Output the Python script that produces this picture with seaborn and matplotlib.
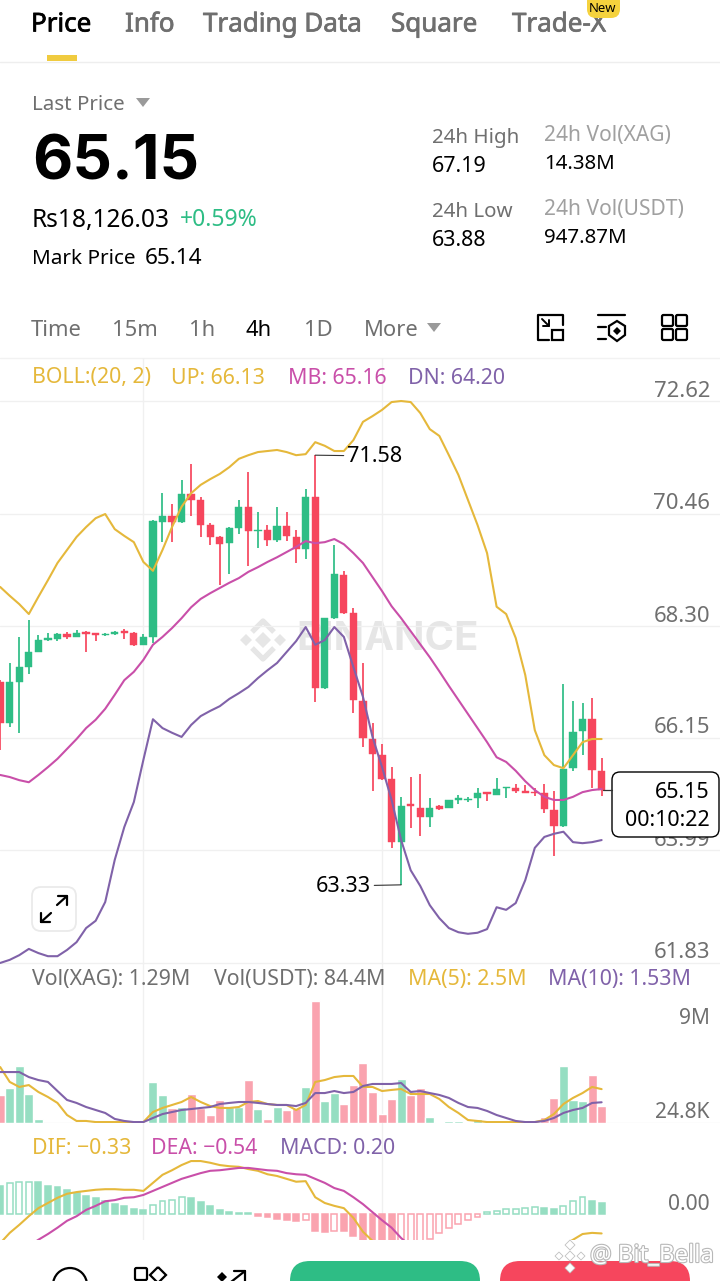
import numpy as np
import pandas as pd
import seaborn as sns
import matplotlib.pyplot as plt
import matplotlib.patheffects as pe
from matplotlib.patches import Polygon, Rectangle, FancyBboxPatch, Circle

# 4h candles, oldest first
opens = [67.23,66.44,67.23,67.51,67.80,68.03,68.05,68.15,68.09,68.19,
         68.17,68.13,68.15,68.21,68.17,67.94,68.09,70.30,70.41,70.30,
         70.83,70.72,70.24,70.00,69.89,70.18,70.59,70.12,70.14,69.95,
         70.22,70.01,69.78,70.78,67.11,68.45,69.28,68.55,66.86,66.13,
         65.82,65.36,64.15,64.88,64.81,64.63,64.84,64.81,64.96,64.96,
         65.00,65.11,65.06,65.19,65.19,65.13,65.11,65.09,64.77,64.46,
         65.57,66.28,66.51,65.52]
highs = [67.26,67.59,68.09,68.42,68.13,68.17,68.17,68.19,68.22,68.21,
         68.17,68.17,68.21,68.24,68.19,68.15,70.34,70.85,70.64,71.10,
         71.41,70.78,70.28,70.03,70.20,70.72,71.26,70.49,70.24,70.59,
         70.49,70.14,70.93,71.58,68.45,69.85,69.36,68.65,67.59,66.44,
         66.03,65.59,65.02,65.40,65.46,65.00,64.86,64.96,65.06,65.02,
         65.19,65.11,65.38,65.21,65.27,65.25,65.19,65.27,65.13,67.19,
         66.86,66.82,66.92,65.77]
lows = [65.92,66.36,66.25,67.38,67.80,68.01,68.01,68.05,68.09,67.80,
        68.01,68.11,68.13,68.05,67.92,67.94,67.97,69.91,69.91,70.28,
        70.41,70.00,69.86,69.09,69.30,70.07,69.45,69.80,69.84,69.91,
        69.93,69.51,69.59,66.84,67.09,68.43,68.53,66.63,65.98,65.13,
        65.34,64.04,63.33,64.42,64.27,64.44,64.77,64.81,64.88,64.92,
        64.81,64.94,65.06,65.00,65.09,65.09,65.04,64.71,63.88,64.44,
        65.52,65.82,65.19,65.04]
closes = [66.44,67.23,67.51,67.80,68.03,68.07,68.15,68.09,68.17,68.15,
          68.13,68.15,68.19,68.17,67.94,68.09,70.32,70.41,70.30,70.83,
          70.72,70.24,70.01,69.87,70.18,70.59,70.12,70.14,69.95,70.22,
          70.03,69.78,70.78,67.11,68.45,69.30,68.55,66.88,66.15,65.84,
          65.36,64.15,64.84,64.84,64.63,64.81,64.79,64.96,65.00,64.98,
          65.09,65.07,65.17,65.21,65.13,65.09,65.09,64.79,64.46,65.55,
          66.27,66.51,65.53,65.15]

# Bollinger bands
boll_up = [69.05,68.88,68.72,68.53,68.86,69.18,69.51,69.76,70.01,70.20,
           70.37,70.45,70.16,70.03,69.91,69.53,69.36,69.76,70.20,70.59,
           70.85,71.01,71.12,71.22,71.35,71.51,71.58,71.64,71.66,71.68,
           71.64,71.58,71.60,71.83,71.76,71.66,71.66,71.87,72.22,72.33,
           72.45,72.60,72.62,72.60,72.39,72.08,71.95,71.58,71.20,70.72,
           70.24,69.70,68.67,68.53,68.07,67.36,66.30,65.82,65.63,65.57,
           65.82,66.07,66.13,66.13]
boll_mb = [65.44,65.40,65.34,65.30,65.44,65.59,65.75,65.94,66.13,66.34,
           66.50,66.71,66.98,67.26,67.42,67.65,67.94,68.09,68.26,68.45,
           68.66,68.82,68.93,69.03,69.13,69.22,69.34,69.43,69.53,69.62,
           69.72,69.82,69.93,69.89,69.91,69.97,69.87,69.70,69.51,69.24,
           68.97,68.68,68.45,68.20,67.95,67.70,67.43,67.15,66.88,66.61,
           66.34,66.07,65.78,65.69,65.52,65.32,65.15,65.02,64.96,64.96,
           65.02,65.11,65.15,65.17]
boll_dn = [61.83,61.89,61.98,62.10,62.02,61.96,61.96,62.08,62.23,62.50,
           62.64,63.00,63.81,64.44,64.92,65.73,66.51,66.34,66.25,66.17,
           66.40,66.57,66.67,66.76,66.90,67.01,67.13,67.30,67.45,67.59,
           67.80,68.01,68.28,67.94,68.03,68.28,68.09,67.51,66.94,66.17,
           65.59,64.96,64.19,63.61,63.31,62.94,62.69,62.50,62.42,62.39,
           62.41,62.48,62.90,62.85,62.98,63.42,64.04,64.25,64.31,64.35,
           64.15,64.13,64.15,64.19]

# volume in millions
volume = [2.07,2.58,4.21,2.14,0.30,0.03,0.03,0.03,0.03,0.04,
          0.03,0.03,0.03,0.03,0.03,0.03,3.03,2.07,1.11,1.18,
          2.14,1.11,0.59,1.70,1.18,1.18,3.17,1.03,0.30,1.18,
          0.96,1.11,2.66,9.00,1.62,2.21,1.40,2.80,4.43,2.29,
          0.66,1.77,3.25,2.07,2.58,0.44,0.04,0.15,0.15,0.04,
          0.26,0.04,0.11,0.05,0.04,0.04,0.05,0.44,1.85,4.21,
          1.70,1.62,3.54,1.29]
vol_ma5 = [4.13,3.03,2.66,2.80,2.29,1.92,1.48,0.59,0.15,0.15,
           0.07,0.07,0.07,0.07,0.07,0.07,0.81,1.11,1.33,1.55,
           1.92,1.55,1.25,1.11,1.11,1.18,1.55,1.62,1.40,1.33,
           1.33,0.96,1.33,3.03,3.17,3.39,3.47,3.47,2.66,2.66,
           2.36,2.44,2.51,2.14,2.14,2.14,1.77,1.18,0.74,0.22,
           0.15,0.07,0.07,0.07,0.07,0.07,0.07,0.22,0.66,1.40,
           1.85,2.21,2.66,2.50]
vol_ma10 = [3.76,3.76,3.76,3.39,3.17,3.03,2.36,1.70,1.48,1.18,
            0.96,0.74,0.30,0.15,0.07,0.07,0.37,0.66,0.81,0.96,
            1.03,1.11,1.18,1.40,1.48,1.55,1.55,1.48,1.40,1.33,
            1.33,1.25,1.48,2.21,2.21,2.36,2.21,2.29,2.73,2.88,
            2.88,2.88,2.95,2.29,2.36,2.21,2.07,1.85,1.48,1.18,
            1.11,0.89,0.59,0.37,0.15,0.07,0.07,0.15,0.37,0.74,
            0.96,1.11,1.48,1.53]

# MACD
macd_hist = [0.50,0.54,0.56,0.57,0.56,0.50,0.47,0.42,0.38,0.33,
             0.28,0.23,0.19,0.14,0.09,0.07,0.17,0.24,0.26,0.30,
             0.28,0.21,0.14,0.07,0.04,0.03,0.02,-0.03,-0.05,-0.07,
             -0.10,-0.12,-0.09,-0.28,-0.31,-0.28,-0.28,-0.38,-0.45,-0.52,
             -0.56,-0.59,-0.56,-0.54,-0.49,-0.42,-0.33,-0.24,-0.17,-0.10,
             -0.05,0.04,0.06,0.09,0.10,0.12,0.13,0.12,0.09,0.14,
             0.23,0.30,0.24,0.20]
macd_dif = [-0.50,-0.32,-0.18,-0.03,0.11,0.20,0.29,0.36,0.39,0.41,
            0.43,0.44,0.44,0.43,0.43,0.41,0.55,0.69,0.77,0.86,
            0.93,0.93,0.90,0.86,0.84,0.83,0.79,0.76,0.70,0.67,
            0.62,0.57,0.58,0.30,0.20,0.15,0.11,-0.06,-0.30,-0.46,
            -0.70,-0.97,-1.23,-1.40,-1.49,-1.49,-1.45,-1.40,-1.35,-1.28,
            -1.23,-1.14,-1.09,-1.00,-0.93,-0.88,-0.83,-0.79,-0.70,-0.53,
            -0.44,-0.34,-0.32,-0.33]
macd_dea = [-0.97,-0.83,-0.69,-0.55,-0.44,-0.34,-0.23,-0.11,-0.03,0.08,
            0.15,0.23,0.25,0.29,0.30,0.34,0.41,0.48,0.55,0.62,
            0.67,0.72,0.76,0.77,0.79,0.81,0.81,0.79,0.77,0.76,
            0.72,0.70,0.69,0.62,0.55,0.46,0.41,0.30,0.18,0.04,
            -0.10,-0.23,-0.41,-0.55,-0.70,-0.84,-0.95,-1.04,-1.10,-1.14,
            -1.15,-1.14,-1.12,-1.10,-1.07,-1.03,-1.00,-0.95,-0.90,-0.83,
            -0.75,-0.67,-0.60,-0.54]

price_ticks = [72.62, 70.46, 68.30, 66.15, 63.99, 61.83]

GREEN, RED = '#2EBD85', '#F6465D'
GREEN_SOFT, RED_SOFT = '#96DEC2', '#FAA3AF'
GOLD, MAGENTA, PURPLE = '#E5B83B', '#C94FA9', '#8062A9'
GRAY, LIGHT = '#6F6F6F', '#A0A0A0'
GRID = '#F0F0F0'

sns.set_theme(style='white')
plt.rcParams['font.family'] = ['Noto Sans', 'DejaVu Sans']

W, H = 720, 1281
fig = plt.figure(figsize=(W / 100, H / 100), dpi=100, facecolor='white')


def ui_axes(z):
    a = fig.add_axes([0, 0, 1, 1], zorder=z)
    a.set_xlim(0, W)
    a.set_ylim(H, 0)
    a.axis('off')
    return a


def panel(top, bottom):
    a = fig.add_axes([0, 1 - bottom / H, 1, (bottom - top) / H], zorder=2)
    a.patch.set_alpha(0)
    a.set_xlim(-0.02, 75.4)
    a.set_xticks([15, 40])
    a.tick_params(length=0, labelleft=False, labelbottom=False)
    a.grid(True, color=GRID, lw=1)
    a.set_axisbelow(True)
    sns.despine(ax=a, left=True, bottom=True)
    return a


bg = ui_axes(0)
top = ui_axes(5)


def txt(x, y, s, px, color='black', weight='normal', ha='left', ax=bg, family=None):
    t = ax.text(x, y + 2, s, fontsize=px * 0.72, color=color, fontweight=weight,
                ha=ha, va='center')
    if family:
        t.set_family(family)
    return t


df = pd.DataFrame({'i': np.arange(len(closes)), 'open': opens, 'high': highs, 'low': lows,
                   'close': closes, 'up': boll_up, 'mb': boll_mb, 'dn': boll_dn,
                   'vol': volume, 'ma5': vol_ma5, 'ma10': vol_ma10,
                   'hist': macd_hist, 'dif': macd_dif, 'dea': macd_dea})
df['rising'] = df['close'] >= df['open']
df['side'] = np.where(df['rising'], 'buy', 'sell')
col = df['side'].map({'buy': GREEN, 'sell': RED})

# ---- price panel
ax = panel(358, 965)
ax.set_ylim(61.791, 73.446)
ax.set_yticks(price_ticks)
ax.vlines(df['i'], df['low'], df['high'], colors=col, lw=1.25, zorder=3)
ax.bar(df['i'], (df['close'] - df['open']).abs(), bottom=df[['open', 'close']].min(axis=1),
       width=0.76, color=col, edgecolor=col, linewidth=0.3, zorder=3)
for name, c in [('up', GOLD), ('mb', MAGENTA), ('dn', PURPLE)]:
    sns.lineplot(data=df, x='i', y=name, color=c, lw=1.5, estimator=None, ax=ax, zorder=4)
ax.set(xlabel=None, ylabel=None)

for val in price_ticks:
    ax.annotate(f'{val:.2f}', (1, val), xycoords=ax.get_yaxis_transform(), xytext=(-10, 10),
                textcoords='offset pixels', ha='right', va='center',
                fontsize=15.9, color=GRAY)
ax.annotate('71.58', xy=(33, 71.58), xytext=(347, 456), textcoords=bg.transData,
            fontsize=15.6, va='center', ha='left', color='black', zorder=6,
            arrowprops=dict(arrowstyle='-', color='#333333', lw=0.8, shrinkA=0, shrinkB=0))
ax.annotate('63.33', xy=(42, 63.33), xytext=(371, 886), textcoords=bg.transData,
            fontsize=15.6, va='center', ha='right', color='black', zorder=6,
            arrowprops=dict(arrowstyle='-', color='#333333', lw=0.8, shrinkA=0, shrinkB=0))

# ---- volume panel
ax2 = panel(965, 1123)
ax2.set_ylim(0, 11.66)
ax2.set_yticks([0])
sns.barplot(data=df, x='i', y='vol', hue='side', palette={'buy': GREEN_SOFT, 'sell': RED_SOFT},
            native_scale=True, dodge=False, width=0.95, saturation=1, legend=False, ax=ax2, zorder=3)
sns.lineplot(data=df, x='i', y='ma5', color=GOLD, lw=1.5, estimator=None, ax=ax2, zorder=4)
sns.lineplot(data=df, x='i', y='ma10', color=PURPLE, lw=1.5, estimator=None, ax=ax2, zorder=5)
ax2.set_xlim(-0.02, 75.4)
ax2.set_xticks([15, 40])
ax2.set(xlabel=None, ylabel=None)
ax2.tick_params(labelbottom=False, labelleft=False)

# ---- macd panel
ax3 = panel(1123, 1240)
ax3.set_ylim(-0.444, 1.592)
ax3.set_yticks([])
prev = df['hist'].shift(1, fill_value=9)
hollow = df['hist'] > prev
bar_col = np.where(df['hist'] >= 0, GREEN_SOFT, RED_SOFT)
ax3.bar(df['i'], df['hist'], width=0.62, color=np.where(hollow, 'white', bar_col),
        edgecolor=bar_col, linewidth=1.1, zorder=3)
sns.lineplot(data=df, x='i', y='dif', color=GOLD, lw=1.5, estimator=None, ax=ax3, zorder=4)
sns.lineplot(data=df, x='i', y='dea', color=MAGENTA, lw=1.5, estimator=None, ax=ax3, zorder=5)
ax3.set(xlabel=None, ylabel=None)

txt(710, 1016, '9M', 21, GRAY, ha='right')
txt(710, 1110, '24.8K', 21, GRAY, ha='right')
txt(710, 1202, '0.00', 21, GRAY, ha='right')

# ---- header tabs
for x, s, c in [(31, 'Price', 'black'), (125, 'Info', GRAY), (203, 'Trading Data', GRAY),
                (391, 'Square', GRAY), (512, 'Trade-X', GRAY)]:
    t = txt(x, 23, s, 26, c)
    t.set_path_effects([pe.withStroke(linewidth=0.5, foreground=c)])
bg.add_patch(Rectangle((47, 55), 30, 6, color='#F0CB3F', lw=0))
bg.plot([0, W], [61.5, 61.5], color='#EEEEEE', lw=1)
top.add_patch(FancyBboxPatch((587, -8), 33, 26, boxstyle='round,pad=0,rounding_size=9',
                             fc='#F5D23D', lw=0))
txt(603, 7, 'New', 13, 'black', ha='center', ax=top)

# ---- ticker block
txt(32, 103, 'Last Price', 20.5, GRAY)
bg.add_patch(Polygon([(136, 98), (150, 98), (143, 107)], color=GRAY, alpha=0.7, lw=0))
txt(32, 162, '65.15', 62, 'black', 'bold', family='Inter')
txt(32, 218, 'Rs18,126.03', 24.5, 'black')
txt(180, 218, '+0.59%', 23, GREEN)
txt(32, 257, 'Mark Price', 20.8, 'black')
txt(145, 257, '65.14', 22.5, 'black')
txt(432, 136, '24h High', 20.5, GRAY)
txt(432, 164, '67.19', 21.5, 'black')
txt(544, 134, '24h Vol(XAG)', 21, LIGHT)
txt(544, 162, '14.38M', 20.5, 'black')
txt(432, 210, '24h Low', 20.5, GRAY)
txt(432, 238, '63.88', 21.5, 'black')
txt(544, 207, '24h Vol(USDT)', 21, LIGHT)
txt(544, 236, '947.87M', 20.5, 'black')

# ---- interval row
for x, s, c in [(31, 'Time', GRAY), (112, '15m', GRAY), (189, '1h', GRAY), (245, '4h', 'black'),
                (304, '1D', GRAY), (364, 'More', GRAY)]:
    txt(x, 328, s, 22, c)
bg.add_patch(Polygon([(427, 323), (441, 323), (434, 332)], color=GRAY, alpha=0.7, lw=0))
bg.plot([0, W], [358, 358], color='#F2F2F2', lw=1)

# toolbar icons
bg.plot([549, 538, 538, 563, 563], [340, 340, 315, 315, 325], color='black', lw=1.6)
bg.add_patch(Rectangle((552, 330), 11, 10, fc='white', ec='black', lw=1.6))
bg.plot([542, 549], [319, 326], color='black', lw=1.4)
bg.plot([543, 549, 549], [326, 326, 320], color='black', lw=1.4)
for y, x0, x1 in [(315, 598, 625), (327, 598, 606), (339, 598, 606)]:
    bg.plot([x0, x1], [y, y], color='black', lw=1.6)
bg.add_patch(Polygon([(617, 321), (625, 326), (625, 335), (617, 341), (609, 335), (609, 326)],
                     fc='none', ec='black', lw=1.6))
bg.add_patch(Polygon([(617, 327), (621, 331), (617, 335), (613, 331)], color='black', lw=0))
for x in (662, 676):
    for y in (315, 329):
        bg.add_patch(FancyBboxPatch((x, y), 11, 11, boxstyle='round,pad=0,rounding_size=1.5',
                                    fc='none', ec='black', lw=1.6))

# ---- indicator captions, above the vertical grid lines
for x, s, c in [(32, 'BOLL:(20, 2)', GOLD), (171, 'UP: 66.13', GOLD), (288, 'MB: 65.16', MAGENTA),
                (408, 'DN: 64.20', PURPLE)]:
    txt(x, 376, s, 21.3, c, ax=top)
for x, s, c in [(32, 'Vol(XAG): 1.29M', GRAY), (214, 'Vol(USDT): 84.4M', GRAY),
                (408, 'MA(5): 2.5M', GOLD), (548, 'MA(10): 1.53M', PURPLE)]:
    txt(x, 977, s, 21.3, c, ax=top)
for x, s, c in [(32, 'DIF: −0.33', GOLD), (151, 'DEA: −0.54', MAGENTA), (280, 'MACD: 0.20', PURPLE)]:
    txt(x, 1146, s, 21.3, c, ax=top)

# ---- watermark behind the chart
wm = '#E6E6E6'
for cx, r in [(263, 8), (246, 6), (280, 6)]:
    bg.add_patch(Polygon([(cx, 640 - r), (cx + r, 640), (cx, 640 + r), (cx - r, 640)], color=wm, lw=0))
bg.plot([252, 263, 274], [632, 621, 632], color=wm, lw=3.8, solid_capstyle='butt')
bg.plot([252, 263, 274], [648, 659, 648], color=wm, lw=3.8, solid_capstyle='butt')
txt(296, 638, 'BINANCE', 40, wm, 'bold', family='Inter')

# ---- last price tag and expand button
top.plot([603, 612], [790, 790], color='#333333', lw=0.9)
top.add_patch(FancyBboxPatch((612, 772), 107, 65, boxstyle='round,pad=0,rounding_size=8',
                             fc='white', ec='black', lw=1))
txt(710, 790, '65.15', 21.5, 'black', ha='right', ax=top)
txt(710, 819, '00:10:22', 21.5, 'black', ha='right', ax=top)
top.add_patch(FancyBboxPatch((32, 887), 44, 44, boxstyle='round,pad=0,rounding_size=9',
                             fc='white', ec='#EAEAEA', lw=1.3))
for x0, y0, x1, y1, hx, hy in [(57, 905, 67, 896, -9, 9), (51, 913, 41, 922, 9, -9)]:
    top.plot([x0, x1], [y0, y1], color='black', lw=1.6)
    top.plot([x1 + hx, x1, x1], [y1, y1, y1 + hy], color='black', lw=1.6)

# ---- bottom bar
top.add_patch(Circle((70, 1285), 17, fc='none', ec='black', lw=1.6))
top.add_patch(FancyBboxPatch((135, 1268), 12, 12, boxstyle='round,pad=0,rounding_size=1.5',
                             fc='none', ec='black', lw=1.6))
top.add_patch(Polygon([(158, 1267), (166, 1275), (158, 1283), (150, 1275)], fc='none', ec='black', lw=1.6))
top.add_patch(Polygon([(222, 1272), (227, 1277), (222, 1282), (217, 1277)], fc='black', lw=0))
top.plot([231, 245, 245], [1282, 1271, 1281], color='black', lw=1.6)
top.plot([234, 245], [1271, 1271], color='black', lw=1.6)
top.add_patch(FancyBboxPatch((290, 1261), 190, 60, boxstyle='round,pad=0,rounding_size=20', fc=GREEN, lw=0))
top.add_patch(FancyBboxPatch((500, 1261), 190, 60, boxstyle='round,pad=0,rounding_size=20', fc=RED, lw=0))

shadow = [pe.withStroke(linewidth=1.6, foreground='#B8B8B8')]
t = txt(590, 1254, '@ Bit_Bella', 24, 'white', ax=top)
t.set_path_effects(shadow)
for cx, cy, r in [(570, 1245, 5), (570, 1268, 5), (559, 1256, 4), (581, 1256, 4), (570, 1256, 5)]:
    p = Polygon([(cx, cy - r), (cx + r, cy), (cx, cy + r), (cx - r, cy)], fc='white', ec='#C0C0C0', lw=0.6)
    top.add_patch(p)

fig.savefig('out.png', dpi=100)
